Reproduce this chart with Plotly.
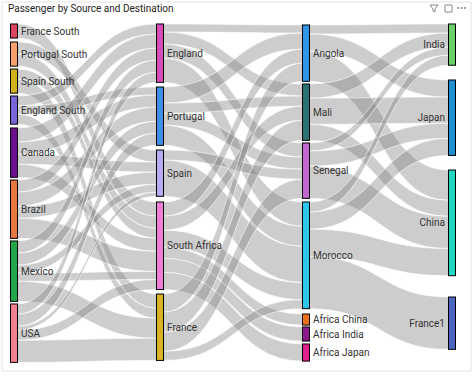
import plotly.graph_objects as go

# ---------------- data ----------------
node_labels = ["France South", "Portugal South", "Spain South", "England South", "Canada",
               "Brazil", "Mexico", "USA",
               "England", "Portugal", "Spain", "South Africa", "France",
               "Angola", "Mali", "Senegal", "Morocco", "Africa China", "Africa India", "Africa Japan",
               "India", "Japan", "China", "France1"]

link_source = ["France South", "Portugal South", "Portugal South", "Spain South", "Spain South",
               "England South", "England South", "England South",
               "Canada", "Canada", "Canada", "Canada",
               "Brazil", "Brazil", "Brazil", "Brazil",
               "Mexico", "Mexico", "Mexico", "Mexico", "Mexico",
               "USA", "USA", "USA", "USA", "USA",
               "England", "England", "England", "England",
               "Portugal", "Portugal", "Portugal", "Portugal",
               "Spain", "Spain",
               "South Africa", "South Africa", "South Africa", "South Africa", "South Africa", "South Africa",
               "France", "France", "France", "France",
               "Angola", "Angola", "Angola",
               "Mali", "Mali", "Mali",
               "Senegal", "Senegal", "Senegal",
               "Morocco", "Morocco", "Morocco", "Morocco"]
link_target = ["South Africa", "Spain", "South Africa", "South Africa", "France",
               "England", "Portugal", "France",
               "England", "Portugal", "Spain", "South Africa",
               "England", "Portugal", "Spain", "South Africa",
               "England", "Portugal", "Spain", "South Africa", "France",
               "England", "Portugal", "Spain", "South Africa", "France",
               "Angola", "Mali", "Senegal", "Morocco",
               "Angola", "Mali", "Senegal", "Morocco",
               "Senegal", "Morocco",
               "Angola", "Mali", "Morocco", "Africa China", "Africa India", "Africa Japan",
               "Angola", "Mali", "Senegal", "Morocco",
               "India", "Japan", "China",
               "India", "Japan", "China",
               "India", "Japan", "China",
               "India", "Japan", "China", "France1"]
link_value = [14, 12, 12, 10, 14,
              10, 8, 10,
              14, 12, 10, 13,
              12, 14, 12, 20,
              12, 12, 8, 8, 20,
              10, 12, 4, 10, 22,
              8, 12, 14, 24,
              16, 10, 12, 20,
              10, 36,
              14, 14, 17, 11, 14, 17,
              18, 20, 19, 9,
              9, 17, 30,
              14, 26, 16,
              8, 15, 32,
              10, 17, 27, 52]

# ---------------- style / layout ----------------
node_colors = ["#D9455F", "#F5A26B", "#D1B21C", "#7A66D6", "#6B1190", "#E5773F", "#22A84A", "#F2828F",
               "#D64CB8", "#3F8FE8", "#B9A9F2", "#F07ED6", "#D8B326",
               "#2E97EA", "#2B7373", "#C269CF", "#2EC6EC", "#F0701C", "#8E1A8C", "#E2218E",
               "#6ACF6A", "#1F8FD2", "#22D6C2", "#4C67C2"]
node_lines = ["#A8324A", "#C07A4E", "#9E8714", "#5A4AA6", "#4A0C66", "#B25A2E", "#187A36", "#BE6470",
              "#A23A8C", "#2E6CB2", "#8C80B8", "#B85FA3", "#A4871C",
              "#226FAE", "#1E5252", "#92509C", "#2296B2", "#B85414", "#661466", "#AA1A6B",
              "#4F9C4F", "#176C9E", "#1AA294", "#3A4E93"]
col_x = [14, 160, 306, 452]
node_col = [0] * 8 + [1] * 5 + [2] * 7 + [3] * 4
node_y = [0.0208, 0.0890, 0.1689, 0.2547, 0.3806, 0.5479, 0.7313, 0.9147,
          0.0863, 0.2727, 0.4413, 0.6561, 0.8971,
          0.0863, 0.2609, 0.4339, 0.6844, 0.8744, 0.9173, 0.9720,
          0.0610, 0.2773, 0.5883, 0.8851]
W, H = 474, 376
top_px, bot_px = 24, 362
FONT = "Segoe UI, Roboto, Open Sans, sans-serif"

idx = {n: i for i, n in enumerate(node_labels)}

fig = go.Figure(go.Sankey(
    arrangement="fixed",
    domain=dict(x=[0, 1], y=[1 - bot_px / H, 1 - top_px / H]),
    node=dict(
        label=node_labels,
        color=node_colors,
        line=dict(color=node_lines, width=1),
        thickness=7,
        pad=3,
        x=[col_x[c] / W for c in node_col],
        y=node_y,
    ),
    link=dict(
        source=[idx[s] for s in link_source],
        target=[idx[t] for t in link_target],
        value=link_value,
        color="rgba(130,130,130,0.40)",
        line=dict(color="white", width=0.6),
    ),
    textfont=dict(family=FONT, size=10, color="#333333", shadow="none"),
))

dots = [dict(type="circle", xref="paper", yref="paper",
             x0=(cx - 0.9) / W, x1=(cx + 0.9) / W, y0=1 - 8.9 / H, y1=1 - 7.1 / H,
             fillcolor="#777777", line=dict(width=0)) for cx in (458, 461.5, 465)]

fig.update_layout(
    width=W, height=H,
    margin=dict(l=0, r=0, t=0, b=0),
    paper_bgcolor="white",
    plot_bgcolor="white",
    font=dict(family=FONT, color="#333333"),
    annotations=[
        dict(text="Passenger by Source and Destination", x=6 / W, y=1 - 8 / H, xref="paper", yref="paper",
             xanchor="left", yanchor="middle", showarrow=False,
             font=dict(size=10, color="#252423", family=FONT)),
    ],
    shapes=[
        dict(type="rect", xref="paper", yref="paper", x0=2 / W, x1=471 / W, y0=1 - 371 / H, y1=1 - 2 / H,
             line=dict(color="#E3E3E3", width=1)),
        dict(type="path", xref="paper", yref="paper",
             path=f"M {430/W} {1-5/H} L {438/W} {1-5/H} L {435/W} {1-9/H} L {435/W} {1-12/H} L {433/W} {1-11/H} L {433/W} {1-9/H} Z",
             line=dict(color="#888888", width=1)),
        dict(type="rect", xref="paper", yref="paper", x0=445 / W, x1=452 / W, y0=1 - 12 / H, y1=1 - 5 / H,
             line=dict(color="#888888", width=1)),
    ] + dots,
)

fig.write_html("out.html", config={"displayModeBar": False},
               post_script="document.body.style.margin='0';")
